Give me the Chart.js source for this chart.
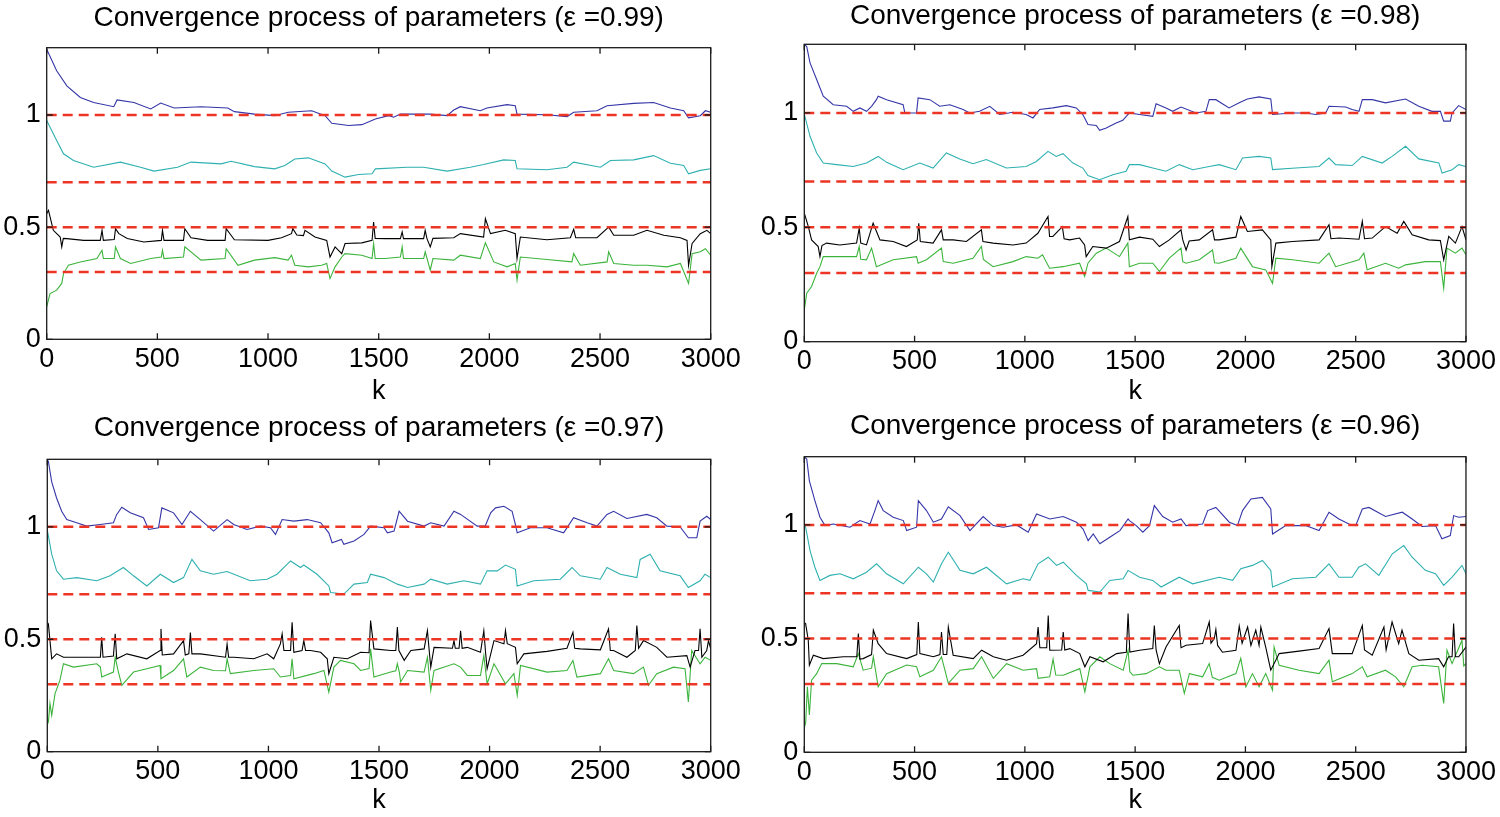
<!DOCTYPE html>
<html>
<head>
<meta charset="utf-8">
<title>Convergence process of parameters</title>
<script src="https://cdn.jsdelivr.net/npm/chart.js@4.4.0/dist/chart.umd.min.js"></script>
<style>
    html, body { margin: 0; padding: 0; background: #fff; }
    body { width: 1500px; height: 817px; position: relative; overflow: hidden; }
    canvas { position: absolute; }
</style>
</head>
<body>
<canvas id="c99"></canvas>
<canvas id="c98"></canvas>
<canvas id="c97"></canvas>
<canvas id="c96"></canvas>
<script>
// Axis ticks and reference (true) parameter values
var kTicks = [0, 500, 1000, 1500, 2000, 2500, 3000];
var yTicks = [0, 0.5, 1];
var trueValues = [1, 0.7, 0.5, 0.3];
var epsilons = ['0.99', '0.98', '0.97', '0.96'];

// Estimated parameter traces, [k, value]
// eps = 0.99
var blue99 = [[0,1.293],[45,1.197],[91,1.13],[152,1.078],[212,1.056],[303,1.037],[318,1.067],[394,1.056],[470,1.027],[515,1.053],[576,1.031],[697,1.037],[818,1.031],[848,1.015],[939,1.004],[1030,0.997],[1091,1.012],[1197,1.019],[1258,0.997],[1288,0.963],[1364,0.953],[1424,0.957],[1485,0.982],[1545,0.997],[1568,0.99],[1598,1.004],[1733,1.004],[1809,0.997],[1839,1.022],[1869,1.037],[1959,1.019],[1989,1.031],[2080,1.046],[2117,1.041],[2125,1.004],[2260,1.001],[2351,0.993],[2381,1.012],[2486,1.019],[2532,1.041],[2652,1.052],[2742,1.056],[2818,1.031],[2878,1.019],[2900,0.987],[2953,0.997],[2976,1.019],[3000,1.012]];
var cyan99 = [[0,0.975],[45,0.886],[76,0.827],[121,0.797],[212,0.767],[333,0.79],[424,0.767],[485,0.75],[591,0.767],[652,0.79],[788,0.782],[833,0.794],[939,0.77],[1030,0.76],[1076,0.775],[1121,0.804],[1182,0.809],[1258,0.782],[1288,0.75],[1348,0.723],[1409,0.735],[1470,0.738],[1485,0.76],[1628,0.767],[1703,0.767],[1809,0.75],[1914,0.767],[1974,0.779],[2065,0.8],[2117,0.797],[2125,0.76],[2260,0.756],[2351,0.767],[2381,0.79],[2502,0.767],[2547,0.797],[2652,0.8],[2742,0.819],[2818,0.785],[2878,0.775],[2900,0.738],[2953,0.753],[3000,0.76]];
var black99 = [[0,0.56],[8,0.575],[30,0.486],[61,0.456],[68,0.412],[75,0.45],[91,0.449],[167,0.441],[242,0.441],[250,0.486],[256,0.441],[305,0.445],[311,0.493],[326,0.471],[364,0.449],[439,0.434],[518,0.441],[523,0.486],[530,0.441],[618,0.441],[624,0.493],[652,0.453],[727,0.441],[806,0.441],[811,0.493],[848,0.444],[1000,0.441],[1061,0.453],[1106,0.471],[1112,0.493],[1130,0.465],[1160,0.462],[1167,0.486],[1212,0.456],[1265,0.441],[1280,0.367],[1303,0.412],[1333,0.382],[1348,0.427],[1424,0.43],[1470,0.441],[1477,0.523],[1484,0.45],[1530,0.449],[1598,0.449],[1606,0.479],[1612,0.449],[1703,0.449],[1710,0.486],[1718,0.449],[1733,0.412],[1745,0.45],[1839,0.453],[1869,0.471],[1974,0.456],[1982,0.538],[2005,0.471],[2072,0.486],[2117,0.471],[2125,0.36],[2140,0.456],[2260,0.444],[2366,0.453],[2381,0.49],[2390,0.453],[2486,0.453],[2539,0.5],[2562,0.464],[2652,0.464],[2712,0.486],[2788,0.464],[2863,0.453],[2893,0.441],[2900,0.33],[2916,0.427],[2953,0.471],[2983,0.486],[3000,0.471]];
var green99 = [[0,0.145],[15,0.204],[45,0.219],[68,0.249],[76,0.293],[98,0.33],[152,0.345],[227,0.36],[250,0.397],[256,0.36],[305,0.36],[311,0.412],[333,0.36],[379,0.338],[470,0.36],[518,0.367],[523,0.397],[530,0.36],[618,0.367],[624,0.412],[697,0.353],[806,0.36],[811,0.404],[864,0.33],[939,0.353],[1030,0.364],[1091,0.353],[1106,0.375],[1121,0.33],[1182,0.323],[1242,0.33],[1265,0.338],[1280,0.271],[1303,0.323],[1333,0.367],[1348,0.382],[1424,0.375],[1470,0.36],[1477,0.427],[1484,0.36],[1530,0.36],[1598,0.367],[1606,0.412],[1612,0.36],[1703,0.36],[1710,0.39],[1733,0.308],[1745,0.36],[1839,0.353],[1869,0.375],[1959,0.36],[1982,0.43],[2020,0.345],[2080,0.323],[2117,0.338],[2125,0.264],[2140,0.367],[2260,0.356],[2373,0.345],[2381,0.382],[2411,0.33],[2532,0.345],[2539,0.39],[2562,0.338],[2652,0.33],[2712,0.33],[2803,0.323],[2863,0.338],[2900,0.249],[2916,0.382],[2953,0.39],[2976,0.404],[3000,0.375]];

// eps = 0.98
var blue98 = [[0,1.3],[11,1.29],[26,1.219],[56,1.146],[86,1.073],[131,1.036],[192,1.029],[222,1.007],[252,1.022],[282,1.007],[305,1.029],[327,1.058],[335,1.073],[373,1.058],[448,1.036],[456,1.0],[509,1.0],[516,1.066],[569,1.058],[614,1.029],[660,1.036],[720,1.015],[750,1.0],[795,1.007],[841,1.029],[886,0.993],[946,1.003],[1006,0.993],[1037,0.978],[1067,1.015],[1127,1.022],[1188,1.032],[1233,1.022],[1263,0.993],[1286,0.949],[1324,0.945],[1339,0.924],[1369,0.934],[1414,0.956],[1444,0.968],[1474,1.0],[1520,0.993],[1580,0.985],[1595,1.04],[1640,1.022],[1670,1.007],[1708,1.026],[1776,1.0],[1821,1.007],[1836,1.058],[1866,1.058],[1926,1.022],[1972,1.044],[2009,1.061],[2062,1.07],[2115,1.061],[2123,0.993],[2213,1.0],[2273,1.0],[2319,0.993],[2364,1.0],[2379,1.029],[2454,1.026],[2484,1.015],[2515,1.007],[2530,1.058],[2575,1.058],[2635,1.044],[2726,1.061],[2786,1.029],[2846,1.007],[2884,1.007],[2899,0.964],[2929,0.964],[2937,1.0],[2967,1.032],[3000,1.015]];
var cyan98 = [[0,0.995],[26,0.898],[56,0.825],[86,0.781],[146,0.774],[222,0.766],[282,0.781],[335,0.81],[373,0.784],[448,0.752],[524,0.781],[584,0.759],[644,0.825],[705,0.799],[765,0.778],[825,0.796],[916,0.759],[1006,0.766],[1052,0.788],[1105,0.832],[1142,0.81],[1173,0.822],[1218,0.781],[1263,0.759],[1286,0.726],[1339,0.708],[1399,0.73],[1459,0.745],[1474,0.774],[1520,0.774],[1580,0.759],[1640,0.745],[1700,0.774],[1761,0.752],[1836,0.766],[1881,0.774],[1957,0.752],[1987,0.803],[2062,0.81],[2115,0.803],[2123,0.752],[2228,0.759],[2334,0.766],[2379,0.803],[2409,0.774],[2484,0.77],[2530,0.81],[2620,0.781],[2665,0.81],[2726,0.854],[2786,0.799],[2877,0.781],[2892,0.737],[2937,0.752],[2967,0.774],[3000,0.766]];
var black98 = [[0,0.562],[18,0.504],[33,0.445],[63,0.416],[71,0.372],[80,0.42],[101,0.431],[161,0.423],[237,0.431],[249,0.496],[256,0.431],[282,0.423],[312,0.518],[343,0.445],[403,0.438],[463,0.416],[512,0.445],[519,0.518],[526,0.438],[584,0.431],[622,0.489],[630,0.445],[675,0.445],[735,0.438],[803,0.489],[810,0.438],[856,0.431],[946,0.423],[1006,0.431],[1059,0.474],[1105,0.547],[1112,0.46],[1127,0.46],[1170,0.503],[1178,0.45],[1203,0.445],[1248,0.453],[1271,0.423],[1278,0.372],[1308,0.416],[1369,0.409],[1429,0.438],[1467,0.547],[1474,0.445],[1520,0.457],[1580,0.448],[1610,0.416],[1655,0.445],[1708,0.489],[1716,0.445],[1731,0.401],[1745,0.44],[1791,0.445],[1851,0.489],[1860,0.445],[1881,0.445],[1957,0.457],[1979,0.547],[2009,0.482],[2077,0.489],[2115,0.445],[2120,0.328],[2138,0.431],[2213,0.438],[2334,0.445],[2379,0.511],[2388,0.45],[2424,0.453],[2515,0.448],[2530,0.526],[2540,0.45],[2575,0.453],[2635,0.503],[2688,0.474],[2718,0.526],[2756,0.467],[2831,0.445],[2884,0.442],[2899,0.358],[2922,0.46],[2952,0.431],[2982,0.503],[3000,0.445]];
var green98 = [[0,0.139],[11,0.212],[33,0.241],[56,0.299],[71,0.328],[86,0.372],[146,0.372],[237,0.372],[249,0.416],[256,0.36],[282,0.358],[305,0.409],[327,0.328],[403,0.358],[509,0.372],[516,0.343],[554,0.358],[622,0.409],[630,0.35],[675,0.343],[765,0.365],[803,0.416],[812,0.36],[856,0.328],[946,0.35],[1006,0.372],[1059,0.365],[1080,0.38],[1112,0.321],[1173,0.328],[1248,0.343],[1271,0.285],[1286,0.343],[1324,0.387],[1369,0.409],[1429,0.372],[1467,0.431],[1474,0.328],[1520,0.343],[1580,0.343],[1610,0.307],[1655,0.365],[1708,0.409],[1716,0.35],[1731,0.343],[1791,0.358],[1851,0.401],[1860,0.345],[1881,0.343],[1957,0.365],[1979,0.409],[2032,0.328],[2092,0.314],[2123,0.255],[2138,0.365],[2213,0.358],[2334,0.343],[2379,0.387],[2409,0.328],[2515,0.358],[2537,0.387],[2552,0.314],[2635,0.343],[2695,0.321],[2726,0.336],[2816,0.35],[2884,0.35],[2899,0.234],[2914,0.409],[2952,0.387],[2982,0.409],[3000,0.38]];

// eps = 0.97
var blue97 = [[0,1.3],[5,1.29],[20,1.2],[42,1.128],[65,1.069],[88,1.032],[133,1.018],[178,1.003],[239,1.01],[299,1.018],[314,1.055],[337,1.087],[375,1.062],[435,1.04],[458,0.988],[503,0.996],[518,1.084],[571,1.062],[609,1.01],[647,1.069],[692,1.032],[752,0.981],[813,1.032],[843,1.01],[903,0.988],[964,1.003],[1009,0.996],[1032,0.966],[1062,1.032],[1115,1.025],[1175,1.032],[1236,1.018],[1273,0.973],[1288,0.929],[1330,0.944],[1341,0.922],[1387,0.937],[1432,0.966],[1462,1.003],[1523,0.996],[1538,0.973],[1568,0.981],[1591,1.069],[1629,1.025],[1704,1.003],[1734,1.018],[1794,1.003],[1839,1.069],[1869,1.055],[1944,1.003],[1980,1.003],[2005,1.062],[2027,1.084],[2065,1.091],[2102,1.069],[2117,1.01],[2125,0.973],[2185,0.996],[2260,0.996],[2335,0.973],[2380,1.04],[2441,1.018],[2486,1.003],[2531,1.055],[2561,1.069],[2621,1.037],[2711,1.055],[2756,1.04],[2802,1.003],[2862,0.999],[2899,0.951],[2937,0.951],[2952,1.025],[2982,1.047],[3000,1.032]];
var cyan97 = [[0,0.985],[20,0.878],[42,0.804],[73,0.767],[133,0.774],[224,0.76],[284,0.782],[344,0.819],[390,0.782],[450,0.737],[511,0.789],[571,0.752],[616,0.774],[654,0.855],[692,0.804],[752,0.789],[813,0.801],[918,0.76],[994,0.767],[1039,0.789],[1100,0.848],[1145,0.819],[1160,0.83],[1220,0.789],[1273,0.737],[1281,0.708],[1341,0.701],[1387,0.745],[1447,0.752],[1462,0.789],[1523,0.774],[1583,0.745],[1629,0.73],[1704,0.745],[1734,0.767],[1809,0.745],[1884,0.76],[1959,0.745],[1989,0.804],[2035,0.804],[2072,0.83],[2117,0.811],[2125,0.737],[2200,0.76],[2320,0.767],[2373,0.819],[2410,0.782],[2501,0.767],[2531,0.819],[2591,0.789],[2666,0.774],[2681,0.855],[2726,0.878],[2771,0.804],[2862,0.782],[2899,0.73],[2952,0.76],[2974,0.789],[3000,0.774]];
var black97 = [[0,0.575],[5,0.568],[12,0.494],[20,0.413],[42,0.435],[73,0.42],[148,0.42],[240,0.42],[246,0.509],[252,0.42],[299,0.425],[307,0.524],[314,0.413],[360,0.435],[450,0.413],[510,0.45],[514,0.546],[520,0.43],[571,0.435],[616,0.494],[624,0.43],[640,0.435],[647,0.53],[654,0.435],[692,0.435],[806,0.42],[813,0.479],[820,0.42],[843,0.42],[934,0.413],[994,0.435],[1024,0.413],[1054,0.479],[1062,0.524],[1070,0.45],[1100,0.45],[1107,0.575],[1115,0.442],[1152,0.45],[1160,0.494],[1168,0.45],[1190,0.45],[1236,0.442],[1266,0.413],[1273,0.347],[1296,0.42],[1357,0.413],[1417,0.442],[1455,0.44],[1462,0.583],[1477,0.457],[1553,0.45],[1576,0.45],[1583,0.554],[1590,0.45],[1614,0.406],[1644,0.45],[1704,0.457],[1719,0.538],[1727,0.45],[1734,0.376],[1749,0.464],[1832,0.46],[1839,0.494],[1845,0.46],[1862,0.46],[1869,0.538],[1876,0.46],[1899,0.464],[1959,0.442],[1974,0.538],[1982,0.44],[1989,0.369],[2020,0.494],[2065,0.48],[2072,0.538],[2080,0.48],[2117,0.464],[2125,0.391],[2155,0.435],[2260,0.446],[2350,0.46],[2377,0.531],[2385,0.46],[2410,0.457],[2501,0.453],[2538,0.546],[2546,0.45],[2561,0.45],[2621,0.42],[2659,0.45],[2666,0.561],[2674,0.46],[2696,0.494],[2756,0.464],[2802,0.42],[2892,0.427],[2907,0.376],[2929,0.45],[2945,0.45],[2952,0.546],[2960,0.42],[2982,0.45],[2990,0.494],[3000,0.457]];
var green97 = [[0,0.12],[5,0.133],[12,0.214],[20,0.162],[35,0.258],[57,0.317],[73,0.391],[118,0.376],[224,0.391],[240,0.376],[246,0.332],[299,0.354],[307,0.42],[320,0.36],[337,0.295],[390,0.354],[450,0.369],[510,0.383],[514,0.324],[571,0.361],[616,0.413],[631,0.332],[692,0.376],[752,0.361],[806,0.36],[813,0.413],[828,0.347],[934,0.361],[1024,0.369],[1054,0.332],[1100,0.339],[1107,0.413],[1115,0.324],[1205,0.347],[1251,0.361],[1273,0.265],[1296,0.376],[1326,0.406],[1387,0.391],[1417,0.361],[1455,0.37],[1462,0.457],[1477,0.332],[1553,0.354],[1576,0.36],[1583,0.391],[1592,0.354],[1598,0.31],[1629,0.361],[1704,0.354],[1719,0.42],[1734,0.273],[1749,0.361],[1839,0.391],[1869,0.376],[1899,0.339],[1959,0.339],[1974,0.428],[1989,0.302],[2020,0.391],[2072,0.302],[2110,0.347],[2125,0.251],[2140,0.383],[2260,0.354],[2350,0.361],[2377,0.406],[2395,0.332],[2501,0.347],[2538,0.413],[2561,0.361],[2651,0.347],[2696,0.376],[2719,0.295],[2756,0.347],[2832,0.376],[2884,0.369],[2899,0.221],[2914,0.45],[2952,0.391],[2975,0.42],[3000,0.406]];

// eps = 0.96
var blue96 = [[0,1.3],[11,1.29],[23,1.194],[48,1.107],[71,1.034],[94,0.997],[131,1.004],[207,0.99],[252,1.019],[298,1.004],[320,1.063],[335,1.107],[358,1.063],[403,1.034],[449,1.019],[464,0.975],[509,0.99],[517,1.107],[554,1.063],[585,1.012],[622,1.026],[653,1.08],[706,1.041],[751,0.975],[811,1.037],[857,0.997],[902,0.99],[962,1.0],[1015,0.968],[1053,1.048],[1113,1.026],[1174,1.037],[1234,1.012],[1264,0.982],[1287,0.931],[1310,0.96],[1340,0.917],[1385,0.946],[1431,0.975],[1468,1.026],[1474,1.019],[1505,0.997],[1535,0.968],[1565,0.997],[1587,1.085],[1625,1.037],[1670,1.012],[1708,1.026],[1731,0.997],[1806,1.004],[1829,1.063],[1866,1.077],[1927,1.012],[1964,0.997],[1987,1.063],[2025,1.114],[2077,1.121],[2115,1.07],[2123,0.96],[2183,0.997],[2273,0.997],[2334,0.975],[2379,1.056],[2424,1.026],[2469,1.004],[2500,0.997],[2530,1.07],[2560,1.077],[2635,1.037],[2711,1.056],[2756,1.026],[2801,0.993],[2862,0.997],[2891,0.939],[2929,0.953],[2944,1.041],[2967,1.034],[3000,1.037]];
var cyan96 = [[0,1.0],[6,0.99],[26,0.887],[48,0.814],[71,0.756],[116,0.778],[162,0.785],[222,0.763],[282,0.792],[328,0.829],[373,0.785],[449,0.741],[517,0.814],[554,0.785],[585,0.749],[622,0.829],[653,0.88],[706,0.8],[766,0.785],[826,0.814],[917,0.741],[992,0.763],[1023,0.756],[1060,0.829],[1106,0.858],[1144,0.822],[1174,0.836],[1234,0.778],[1279,0.741],[1287,0.712],[1340,0.705],[1385,0.756],[1446,0.763],[1468,0.8],[1520,0.77],[1580,0.756],[1618,0.727],[1700,0.77],[1761,0.741],[1881,0.77],[1942,0.756],[1979,0.807],[2032,0.822],[2077,0.844],[2115,0.8],[2123,0.727],[2213,0.763],[2319,0.77],[2379,0.829],[2424,0.77],[2484,0.77],[2514,0.814],[2545,0.829],[2605,0.778],[2666,0.873],[2718,0.909],[2756,0.858],[2816,0.8],[2862,0.785],[2899,0.734],[2937,0.77],[2982,0.822],[3000,0.785]];
var black96 = [[0,0.57],[6,0.566],[18,0.493],[23,0.383],[41,0.427],[86,0.412],[177,0.42],[238,0.42],[245,0.522],[252,0.41],[267,0.412],[305,0.43],[313,0.537],[335,0.478],[373,0.434],[464,0.412],[510,0.43],[517,0.573],[524,0.434],[585,0.42],[615,0.43],[622,0.529],[630,0.43],[646,0.43],[653,0.551],[675,0.427],[766,0.412],[804,0.449],[857,0.42],[917,0.405],[992,0.427],[1053,0.478],[1060,0.551],[1068,0.46],[1099,0.46],[1106,0.602],[1113,0.449],[1167,0.45],[1174,0.529],[1181,0.45],[1204,0.456],[1249,0.434],[1272,0.376],[1295,0.42],[1355,0.398],[1416,0.434],[1460,0.44],[1468,0.61],[1476,0.441],[1520,0.449],[1580,0.456],[1587,0.558],[1595,0.45],[1610,0.39],[1640,0.463],[1700,0.558],[1708,0.46],[1731,0.471],[1806,0.478],[1836,0.573],[1844,0.48],[1859,0.5],[1866,0.54],[1874,0.47],[1896,0.44],[1957,0.449],[1972,0.555],[1985,0.48],[2010,0.551],[2025,0.47],[2047,0.537],[2062,0.47],[2070,0.551],[2092,0.463],[2115,0.361],[2153,0.434],[2243,0.445],[2334,0.456],[2379,0.544],[2394,0.434],[2484,0.434],[2530,0.558],[2540,0.45],[2575,0.427],[2628,0.551],[2638,0.45],[2665,0.573],[2695,0.478],[2710,0.537],[2741,0.434],[2786,0.405],[2876,0.412],[2899,0.376],[2921,0.42],[2937,0.42],[2944,0.566],[2952,0.42],[2967,0.42],[3000,0.463]];
var green96 = [[0,0.11],[6,0.127],[14,0.288],[23,0.164],[33,0.317],[56,0.346],[79,0.39],[147,0.39],[222,0.376],[245,0.434],[267,0.361],[305,0.37],[313,0.42],[335,0.288],[373,0.346],[464,0.384],[509,0.376],[524,0.332],[585,0.361],[622,0.42],[653,0.303],[706,0.361],[766,0.368],[804,0.42],[857,0.325],[917,0.39],[992,0.361],[1053,0.368],[1060,0.325],[1113,0.332],[1128,0.41],[1140,0.34],[1174,0.339],[1249,0.368],[1272,0.266],[1295,0.376],[1340,0.42],[1385,0.39],[1446,0.361],[1468,0.449],[1476,0.354],[1490,0.339],[1550,0.346],[1610,0.376],[1640,0.361],[1700,0.361],[1723,0.259],[1746,0.346],[1806,0.332],[1836,0.39],[1850,0.33],[1881,0.317],[1957,0.346],[1979,0.413],[2002,0.288],[2032,0.346],[2062,0.288],[2092,0.346],[2123,0.273],[2130,0.463],[2153,0.383],[2243,0.361],[2334,0.346],[2379,0.405],[2394,0.31],[2484,0.346],[2530,0.376],[2552,0.332],[2635,0.361],[2681,0.332],[2718,0.288],[2756,0.376],[2801,0.383],[2876,0.376],[2899,0.215],[2914,0.449],[2937,0.39],[2982,0.493],[2990,0.38],[3000,0.39]];

var FONT = "'Liberation Sans', Arial, Helvetica, sans-serif";
var TICK_SIZE = 27;
var TITLE_SIZE = 28;
var COLORS = { blue: '#3535a8', cyan: '#2fb0b0', black: '#000000', green: '#3cb43c', red: '#ee3424' };

// Frame and inward tick marks, like a MATLAB axes box
var boxTicks = {
    id: 'boxTicks',
    afterDatasetsDraw: function(chart) {
        var ctx = chart.ctx;
        var a = chart.chartArea;
        var x = chart.scales.x;
        var y = chart.scales.y;
        ctx.save();
        ctx.strokeStyle = '#1a1a1a';
        ctx.lineWidth = 1.3;
        ctx.strokeRect(a.left, a.top, a.right - a.left, a.bottom - a.top);
        ctx.beginPath();
        x.ticks.forEach(function(t) {
            var px = x.getPixelForValue(t.value);
            ctx.moveTo(px, a.bottom); ctx.lineTo(px, a.bottom - 6);
            ctx.moveTo(px, a.top); ctx.lineTo(px, a.top + 6);
        });
        y.ticks.forEach(function(t) {
            var py = y.getPixelForValue(t.value);
            ctx.moveTo(a.left, py); ctx.lineTo(a.left + 6, py);
            ctx.moveTo(a.right, py); ctx.lineTo(a.right - 6, py);
        });
        ctx.stroke();
        ctx.restore();
    }
};

// Title centred over the plot box (the built-in title centres over the whole canvas)
var panelTitle = {
    id: 'panelTitle',
    afterDraw: function(chart, args, opts) {
        var ctx = chart.ctx;
        var a = chart.chartArea;
        ctx.save();
        ctx.fillStyle = '#000';
        ctx.font = TITLE_SIZE + 'px ' + FONT;
        ctx.textAlign = 'center';
        ctx.textBaseline = 'middle';
        ctx.fillText(opts.text, (a.left + a.right) / 2, opts.y);
        ctx.restore();
    }
};

function toPoints(pairs) {
    return pairs.map(function(p) { return {x: p[0], y: p[1]}; });
}

function traceDataset(pairs, color) {
    return {
        data: toPoints(pairs),
        borderColor: color,
        borderWidth: 1.1,
        pointRadius: 0,
        tension: 0,
        fill: false
    };
}

function refDataset(value) {
    return {
        data: [{x: 0, y: value}, {x: 3000, y: value}],
        borderColor: COLORS.red,
        borderWidth: 2.5,
        borderDash: [10, 6],
        pointRadius: 0,
        fill: false
    };
}

// Build one panel; area = target plot rectangle in page pixels
function makePanel(id, eps, series, area, canvasBox, titleCenterY, kCenterY) {
    var canvas = document.getElementById(id);
    canvas.width = canvasBox.w;
    canvas.height = canvasBox.h;
    canvas.style.left = canvasBox.x + 'px';
    canvas.style.top = canvasBox.y + 'px';
    canvas.style.width = canvasBox.w + 'px';
    canvas.style.height = canvasBox.h + 'px';

    var yAxisWidth = area.left - canvasBox.x;
    var xAxisHeight = canvasBox.y + canvasBox.h - area.bottom;
    var kPadBottom = Math.max(0, canvasBox.y + canvasBox.h - TICK_SIZE * 0.6 - kCenterY);

    // reference lines first so they are drawn on top of the traces
    var datasets = trueValues.map(refDataset).concat([
        traceDataset(series[0], COLORS.blue),
        traceDataset(series[1], COLORS.cyan),
        traceDataset(series[2], COLORS.black),
        traceDataset(series[3], COLORS.green)
    ]);

    return new Chart(canvas.getContext('2d'), {
        type: 'line',
        data: { datasets: datasets },
        options: {
            responsive: false,
            animation: false,
            devicePixelRatio: 1,
            layout: { padding: {
                left: 0,
                top: area.top - canvasBox.y,
                bottom: 0,
                right: canvasBox.x + canvasBox.w - area.right
            } },
            plugins: {
                legend: { display: false },
                tooltip: { enabled: false },
                title: { display: false },
                panelTitle: {
                    text: 'Convergence process of parameters (\u03b5 =' + eps + ')',
                    y: titleCenterY - canvasBox.y
                }
            },
            scales: {
                x: {
                    type: 'linear',
                    min: 0,
                    max: 3000,
                    grid: { display: false, drawTicks: false },
                    border: { display: false },
                    afterBuildTicks: function(s) { s.ticks = kTicks.map(function(v) { return {value: v}; }); },
                    afterFit: function(s) { s.height = xAxisHeight; },
                    ticks: { color: '#000', padding: 4, maxRotation: 0, autoSkip: false,
                             font: { family: FONT, size: TICK_SIZE },
                             callback: function(v) { return String(v); } },
                    title: { display: true, text: 'k', color: '#000', padding: { top: 0, bottom: kPadBottom },
                             font: { family: FONT, size: TICK_SIZE } }
                },
                y: {
                    type: 'linear',
                    min: 0,
                    max: 1.3,
                    grid: { display: false, drawTicks: false },
                    border: { display: false },
                    afterBuildTicks: function(s) { s.ticks = yTicks.map(function(v) { return {value: v}; }); },
                    afterFit: function(s) { s.width = yAxisWidth; },
                    ticks: { color: '#000', padding: 6, font: { family: FONT, size: TICK_SIZE },
                             callback: function(v) { return String(v); } }
                }
            }
        },
        plugins: [boxTicks, panelTitle]
    });
}

makePanel('c99', epsilons[0], [blue99, cyan99, black99, green99],
    {left: 46.7, right: 710.7, top: 47.7, bottom: 339.3}, {x: 0, y: 0, w: 750, h: 408}, 18, 392);
makePanel('c98', epsilons[1], [blue98, cyan98, black98, green98],
    {left: 804.3, right: 1467.3, top: 44.3, bottom: 341.7}, {x: 757, y: 0, w: 743, h: 408}, 16, 392);
makePanel('c97', epsilons[2], [blue97, cyan97, black97, green97],
    {left: 47.3, right: 710.7, top: 459.3, bottom: 751.7}, {x: 0, y: 410, w: 750, h: 407}, 428, 802);
makePanel('c96', epsilons[3], [blue96, cyan96, black96, green96],
    {left: 804.3, right: 1467.3, top: 456.7, bottom: 752.3}, {x: 757, y: 410, w: 743, h: 407}, 426, 802);
</script>
</body>
</html>
